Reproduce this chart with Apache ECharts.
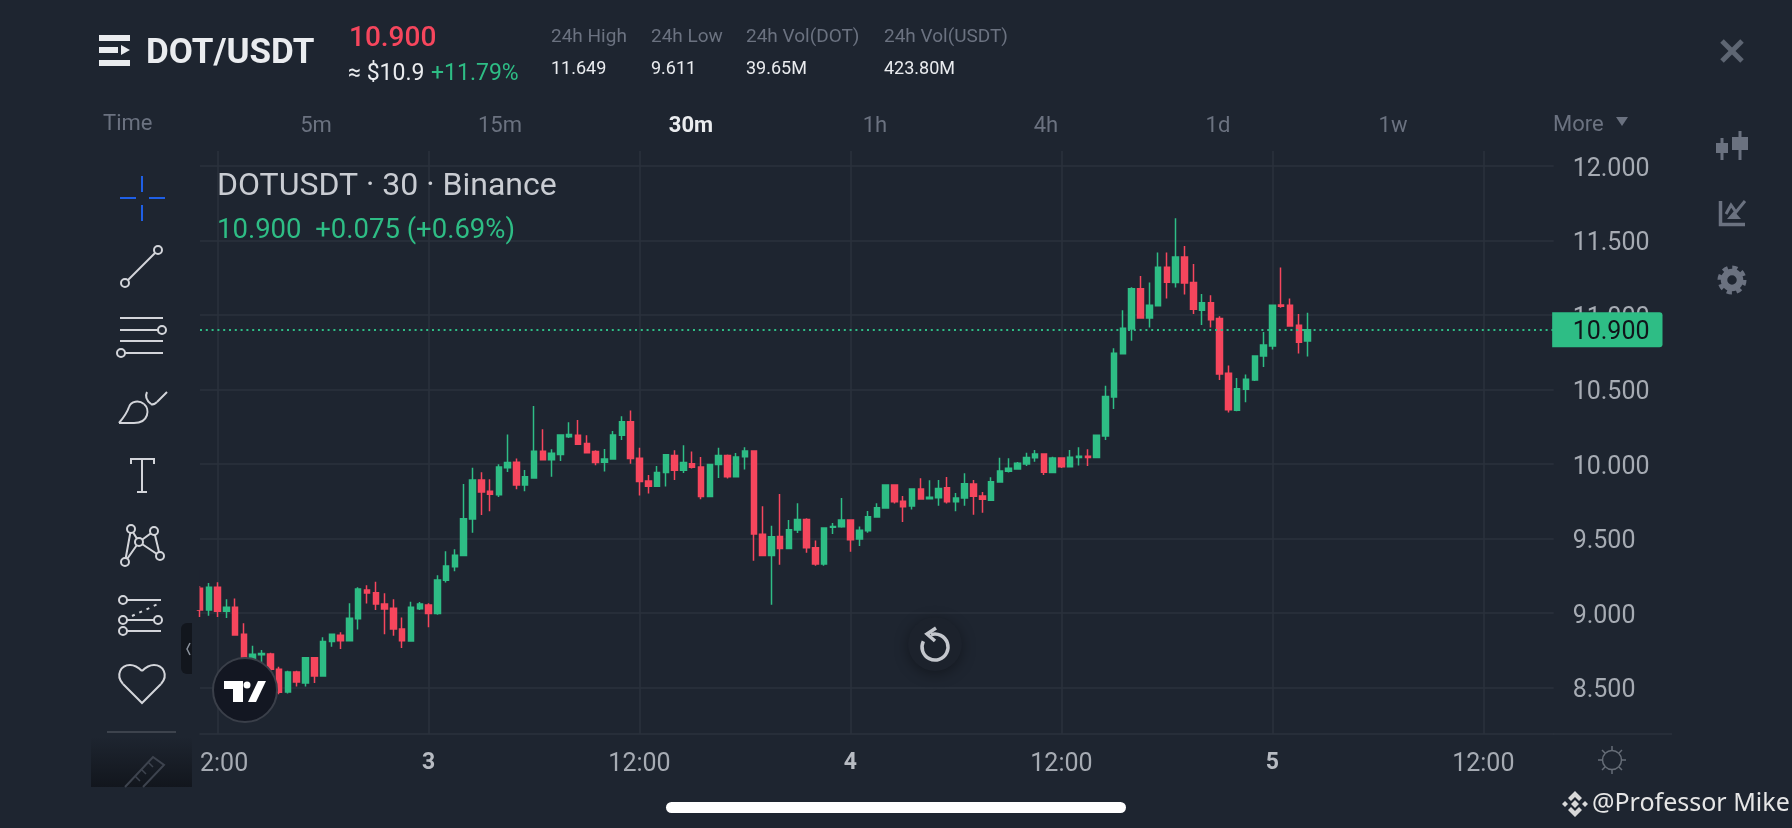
<!DOCTYPE html>
<html>
<head>
<meta charset="utf-8">
<style>
  html, body { margin: 0; padding: 0; background: #1e2530; }
  #main { width: 1792px; height: 828px; }
</style>
<script src="https://cdn.jsdelivr.net/npm/echarts@6/dist/echarts.min.js"></script>
</head>
<body>
<div id="main"></div>
<script>
// 30m candles
const opens = [
  9.166, 9.020, 9.172, 9.011, 9.038, 8.857, 8.662, 8.720, 8.725, 8.622,
  8.470, 8.604, 8.530, 8.700, 8.577, 8.808, 8.850, 8.814, 8.962, 9.154,
  9.136, 9.060, 9.031, 8.893, 8.812, 9.029, 9.054, 8.996, 9.219, 9.311,
  9.385, 9.631, 9.893, 9.817, 9.794, 9.975, 10.011, 9.859, 9.906, 10.085,
  10.029, 10.063, 10.183, 10.192, 10.137, 10.083, 10.011, 10.034, 10.193, 10.284,
  10.038, 9.886, 9.850, 9.942, 10.056, 9.958, 10.002, 9.980, 9.781, 9.996,
  10.056, 9.915, 10.049, 10.087, 9.528, 9.385, 9.514, 9.432, 9.557, 9.628,
  9.438, 9.329, 9.575, 9.579, 9.624, 9.496, 9.552, 9.644, 9.704, 9.859,
  9.749, 9.718, 9.832, 9.767, 9.774, 9.841, 9.747, 9.772, 9.865, 9.785,
  9.756, 9.879, 9.951, 9.966, 10.000, 10.042, 10.067, 9.942, 10.040, 9.982,
  10.043, 10.052, 10.043, 10.188, 10.450, 10.739, 10.906, 11.175, 10.980, 11.061,
  11.320, 11.217, 11.389, 11.217, 11.032, 11.081, 10.976, 10.609, 10.360, 10.501,
  10.564, 10.725, 10.792, 11.067, 11.065, 10.931, 10.825
];
const closes = [
  9.020, 9.172, 9.011, 9.038, 8.852, 8.662, 8.723, 8.729, 8.622, 8.468,
  8.604, 8.537, 8.700, 8.577, 8.808, 8.857, 8.814, 8.964, 9.161, 9.134,
  9.060, 9.027, 8.893, 8.814, 9.038, 9.060, 8.996, 9.221, 9.315, 9.387,
  9.633, 9.893, 9.812, 9.796, 9.980, 10.009, 9.859, 9.915, 10.085, 10.029,
  10.072, 10.195, 10.197, 10.132, 10.076, 10.009, 10.034, 10.195, 10.284, 10.036,
  9.882, 9.850, 9.942, 10.061, 9.958, 10.009, 9.978, 9.781, 9.996, 10.056,
  9.915, 10.047, 10.087, 9.530, 9.385, 9.512, 9.432, 9.559, 9.628, 9.438,
  9.329, 9.570, 9.581, 9.624, 9.492, 9.555, 9.646, 9.707, 9.859, 9.747,
  9.713, 9.832, 9.765, 9.776, 9.836, 9.747, 9.772, 9.868, 9.783, 9.763,
  9.881, 9.953, 9.971, 10.004, 10.044, 10.067, 9.944, 10.040, 9.982, 10.045,
  10.052, 10.043, 10.193, 10.452, 10.743, 10.911, 11.175, 10.980, 11.065, 11.320,
  11.219, 11.389, 11.215, 11.038, 11.081, 10.967, 10.604, 10.363, 10.504, 10.569,
  10.725, 10.799, 11.065, 11.058, 10.926, 10.817, 10.900
];
const lows = [
  8.973, 8.982, 8.973, 8.966, 8.848, 8.650, 8.650, 8.651, 8.606, 8.454,
  8.459, 8.506, 8.506, 8.530, 8.575, 8.774, 8.758, 8.812, 8.890, 9.063,
  9.020, 8.857, 8.848, 8.765, 8.808, 9.020, 8.904, 8.989, 9.204, 9.280,
  9.383, 9.539, 9.658, 9.682, 9.779, 9.946, 9.830, 9.817, 9.902, 10.027,
  9.915, 10.020, 10.175, 10.128, 10.072, 9.991, 9.949, 10.032, 10.161, 10.002,
  9.788, 9.801, 9.848, 9.848, 9.893, 9.940, 9.969, 9.763, 9.776, 9.906,
  9.902, 9.911, 9.962, 9.351, 9.383, 9.056, 9.324, 9.429, 9.537, 9.405,
  9.317, 9.317, 9.530, 9.572, 9.411, 9.449, 9.539, 9.642, 9.700, 9.734,
  9.610, 9.695, 9.760, 9.765, 9.720, 9.734, 9.682, 9.720, 9.660, 9.673,
  9.754, 9.874, 9.942, 9.962, 9.986, 10.015, 9.926, 9.940, 9.973, 9.980,
  9.989, 9.987, 10.041, 10.161, 10.369, 10.737, 10.826, 10.976, 10.915, 11.056,
  11.110, 11.184, 11.137, 11.007, 10.933, 10.915, 10.564, 10.345, 10.354, 10.414,
  10.557, 10.651, 10.768, 11.049, 10.924, 10.741, 10.721
];
const highs = [
  9.181, 9.201, 9.206, 9.092, 9.098, 8.931, 8.781, 8.752, 8.734, 8.640,
  8.613, 8.613, 8.703, 8.703, 8.837, 8.860, 8.870, 9.065, 9.172, 9.186,
  9.210, 9.132, 9.092, 8.969, 9.076, 9.074, 9.065, 9.253, 9.414, 9.427,
  9.866, 9.975, 9.944, 9.897, 9.998, 10.197, 10.036, 9.960, 10.389, 10.233,
  10.098, 10.197, 10.280, 10.295, 10.192, 10.092, 10.101, 10.222, 10.320, 10.358,
  10.108, 9.926, 9.987, 10.065, 10.092, 10.125, 10.083, 10.047, 9.998, 10.108,
  10.063, 10.074, 10.112, 10.092, 9.716, 9.586, 9.798, 9.624, 9.736, 9.635,
  9.487, 9.575, 9.604, 9.772, 9.626, 9.581, 9.684, 9.736, 9.863, 9.861,
  9.785, 9.834, 9.904, 9.890, 9.892, 9.912, 9.805, 9.937, 9.892, 9.812,
  9.910, 10.042, 10.038, 10.013, 10.076, 10.094, 10.069, 10.049, 10.042, 10.094,
  10.112, 10.099, 10.195, 10.524, 10.777, 11.032, 11.186, 11.262, 11.217, 11.419,
  11.419, 11.649, 11.463, 11.342, 11.141, 11.132, 10.991, 10.660, 10.577, 10.600,
  10.730, 10.886, 11.067, 11.318, 11.110, 11.007, 11.014
];
const lastPrice = 10.9;
const yTicks = [8.5, 9, 9.5, 10, 10.5, 11, 11.5, 12];
const xTickIndexes = [2, 26, 50, 74, 98, 122, 146];
const xTickLabels = ['2:00', '3', '12:00', '4', '12:00', '5', '12:00'];
const slotCount = 155;

const categories = [];
for (let i = 0; i < slotCount; i++) {
  const t = xTickIndexes.indexOf(i);
  categories.push(t >= 0 ? xTickLabels[t] : '');
}
const candles = opens.map((o, i) => [o, closes[i], lows[i], highs[i]]);

const UP = '#2ebd85';
const DOWN = '#f6465d';
const BG = '#1e2530';
const GRID = '#2b323d';
const AXIS_TEXT = '#a6abb3';
const DIM = '#6b7280';
const ICON = '#d3d5da';
const FONT = 'Roboto';

// helpers for the app chrome around the chart
const txt = (x, y, text, size, fill, weight, align, family) => ({
  type: 'text', z: 100, x: x, y: y,
  style: { text: text, fill: fill, font: (weight || 400) + ' ' + size + 'px ' + (family || FONT), textAlign: align || 'left', textVerticalAlign: 'middle' }
});
const line = (pts, stroke, w, dash) => ({
  type: 'polyline', z: 100, shape: { points: pts },
  style: { stroke: stroke, lineWidth: w, fill: null, lineDash: dash || null }
});
const ring = (cx, cy, r, stroke, w, fill, dash) => ({
  type: 'circle', z: 100, shape: { cx: cx, cy: cy, r: r },
  style: { stroke: stroke, lineWidth: w, fill: fill || BG, lineDash: dash || null }
});
const box = (x, y, w, h, fill, r) => ({
  type: 'rect', z: 100, shape: { x: x, y: y, width: w, height: h, r: r || 0 }, style: { fill: fill }
});
const poly = (pts, fill) => ({ type: 'polygon', z: 100, shape: { points: pts }, style: { fill: fill } });
const curve = (x1, y1, cx1, cy1, cx2, cy2, x2, y2, stroke, w) => ({
  type: 'bezierCurve', z: 100,
  shape: { x1: x1, y1: y1, cpx1: cx1, cpy1: cy1, cpx2: cx2, cpy2: cy2, x2: x2, y2: y2 },
  style: { stroke: stroke, lineWidth: w, fill: null }
});

const chrome = [
  // header
  box(99, 35, 31, 6, '#eaecef'),
  box(99, 47, 19, 6, '#eaecef'),
  poly([[121, 45], [130, 50], [121, 55]], '#eaecef'),
  box(99, 60, 31, 6, '#eaecef'),
  txt(146, 54, 'DOT/USDT', 35, '#eaecef', 700),
  txt(349, 39, '10.900', 28, DOWN, 500),
  txt(348, 74, '≈ $10.9', 23, '#eaecef', 400),
  txt(431, 74, '+11.79%', 23, UP, 400),
  txt(551, 37, '24h High', 19, DIM), txt(551, 69, '11.649', 18, '#eaecef'),
  txt(651, 37, '24h Low', 19, DIM), txt(651, 69, '9.611', 18, '#eaecef'),
  txt(746, 37, '24h Vol(DOT)', 19, DIM), txt(746, 69, '39.65M', 18, '#eaecef'),
  txt(884, 37, '24h Vol(USDT)', 19, DIM), txt(884, 69, '423.80M', 18, '#eaecef'),
  line([[1722, 41], [1742, 61]], '#5e6673', 5),
  line([[1742, 41], [1722, 61]], '#5e6673', 5),

  // timeframe row
  txt(103, 124, 'Time', 22, DIM),
  txt(316, 126, '5m', 22, DIM, 400, 'center'),
  txt(500, 126, '15m', 22, DIM, 400, 'center'),
  txt(691, 126, '30m', 22, '#eaecef', 700, 'center'),
  txt(875, 126, '1h', 22, DIM, 400, 'center'),
  txt(1046, 126, '4h', 22, DIM, 400, 'center'),
  txt(1218, 126, '1d', 22, DIM, 400, 'center'),
  txt(1393, 126, '1w', 22, DIM, 400, 'center'),
  txt(1553, 125, 'More', 22, DIM),
  poly([[1616, 117], [1628, 117], [1622, 126]], DIM),

  // chart legend
  txt(217, 187, 'DOTUSDT · 30 · Binance', 32, '#c9ccd2', 400),
  txt(217, 231, '10.900  +0.075 (+0.69%)', 27.5, UP, 400),

  // first candle runs under the toolbar edge
  box(190, 570, 9.5, 40, BG),

  // right column icons
  box(1716, 143, 12, 10, '#6b7280'), box(1720.5, 138, 3, 22, '#6b7280'),
  box(1732, 137, 16, 13, '#6b7280'), box(1738.5, 131, 3, 29, '#6b7280'),
  line([[1720.5, 201], [1720.5, 224.5], [1745, 224.5]], '#6b7280', 3.5),
  line([[1726, 214], [1731, 205], [1736, 212], [1745, 201]], '#6b7280', 3),
  poly([[1727, 219], [1741, 219], [1734, 211]], '#6b7280'),
  ring(1732, 280, 12.5, '#6b7280', 4, BG, [5.2, 4.6]),
  ring(1732, 280, 8, '#6b7280', 6.5, BG),

  // left toolbar
  line([[120, 198], [136, 198]], '#1f5fe6', 2), line([[149, 198], [165, 198]], '#1f5fe6', 2),
  line([[142, 176], [142, 192]], '#1f5fe6', 2), line([[142, 205], [142, 221]], '#1f5fe6', 2),

  line([[128, 280], [155, 253]], ICON, 2),
  ring(158, 250, 4, ICON, 2), ring(125, 283, 4, ICON, 2),

  line([[120, 318], [163, 318]], ICON, 2), line([[120, 330], [158, 330]], ICON, 2),
  line([[120, 341], [163, 341]], ICON, 2), line([[125, 353], [163, 353]], ICON, 2),
  ring(162, 330, 4, ICON, 2), ring(121, 353, 4, ICON, 2),

  // brush
  curve(119, 423, 124, 417, 127, 413, 129, 407, ICON, 2),
  curve(129, 407, 131, 401, 139, 400, 144, 404, ICON, 2),
  curve(144, 404, 150, 409, 149, 423, 134, 423, ICON, 2),
  line([[134, 423], [119, 423]], ICON, 2),
  curve(147, 392, 145, 396, 146, 400, 151, 404, ICON, 2),
  curve(151, 404, 153, 405, 155, 404, 157, 402, ICON, 2),
  line([[157, 402], [167, 392]], ICON, 2),

  line([[131, 464], [131, 459], [154, 459], [154, 464]], ICON, 2),
  line([[142, 459], [142, 492]], ICON, 2), line([[137, 492], [147, 492]], ICON, 2),

  line([[131, 529], [125, 562], [139, 542], [131, 529]], ICON, 2),
  line([[139, 542], [154, 531], [160, 556], [139, 542]], ICON, 2),
  ring(131, 529, 4, ICON, 2), ring(154, 531, 4, ICON, 2), ring(139, 542, 4, ICON, 2),
  ring(125, 562, 4, ICON, 2), ring(160, 556, 4, ICON, 2),

  line([[127, 600], [161, 600]], ICON, 2), line([[127, 620], [154, 620]], ICON, 2),
  line([[127, 631], [161, 631]], ICON, 2), line([[132, 616], [158, 604]], ICON, 2, [3, 5]),
  ring(123, 600, 4, ICON, 2), ring(123, 620, 4, ICON, 2), ring(158, 620, 4, ICON, 2), ring(123, 631, 4, ICON, 2),

  // heart
  line([[123, 684], [142, 703], [161, 684]], ICON, 2),
  curve(123, 684, 115, 675, 121, 665, 130, 665, ICON, 2),
  curve(130, 665, 135, 665, 139, 668, 142, 671, ICON, 2),
  curve(142, 671, 145, 668, 149, 665, 154, 665, ICON, 2),
  curve(154, 665, 163, 665, 169, 675, 161, 684, ICON, 2),

  box(107, 731, 69, 2, '#3d434d'),
  {
    type: 'rect', z: 99, shape: { x: 91, y: 737, width: 101, height: 50 },
    style: {
      fill: new echarts.graphic.LinearGradient(0, 0, 0, 1, [
        { offset: 0, color: '#1e2530' }, { offset: 1, color: '#12161d' }
      ])
    }
  },
  line([[125, 787], [153, 757], [164, 765], [143, 787]], '#3d434e', 2),
  line([[141, 769], [146, 774]], '#3d434e', 1.5), line([[135, 776], [140, 781]], '#3d434e', 1.5),
  line([[148, 762], [153, 767]], '#3d434e', 1.5),

  box(181, 623, 11, 51, '#12161d', [6, 0, 0, 6]),
  line([[190, 643], [187, 649], [190, 655]], '#8b929c', 1.5),

  // TradingView badge over the first candles
  ring(245, 690, 32, '#3a3f49', 2, '#131722'),
  poly([[224, 681], [243, 681], [243, 702], [233, 702], [233, 689], [224, 689]], '#ffffff'),
  ring(247, 685, 3.5, '#ffffff', 0, '#ffffff'),
  poly([[258, 681], [266, 681], [256, 702], [248, 702]], '#ffffff'),

  // reset button
  {
    type: 'circle', z: 98, shape: { cx: 935, cy: 644, r: 27 },
    style: { fill: '#1c222c', shadowBlur: 14, shadowColor: 'rgba(0,0,0,0.35)', shadowOffsetY: 3 }
  },
  {
    type: 'arc', z: 100, shape: { cx: 935, cy: 647, r: 13, startAngle: -1.9, endAngle: 3.6, clockwise: true },
    style: { stroke: '#c4c7cd', lineWidth: 3.5, fill: null }
  },
  line([[936, 628], [927, 634], [935, 641]], '#c4c7cd', 3.5),

  // bottom strip
  line([[1553, 734], [1672, 734]], GRID, 1.5),
  ring(1612, 760, 9.5, '#666d77', 1.5),
  line([[1612, 746], [1612, 750]], '#666d77', 1.5), line([[1612, 770], [1612, 774]], '#666d77', 1.5),
  line([[1598, 760], [1602, 760]], '#666d77', 1.5), line([[1622, 760], [1626, 760]], '#666d77', 1.5),
  line([[1602, 750], [1605, 753]], '#666d77', 1.5), line([[1622, 750], [1619, 753]], '#666d77', 1.5),
  line([[1602, 770], [1605, 767]], '#666d77', 1.5), line([[1622, 770], [1619, 767]], '#666d77', 1.5),

  poly([[1575, 791], [1582, 798], [1579, 801], [1575, 797], [1571, 801], [1568, 798]], '#d8d8d8'),
  poly([[1575, 817], [1582, 810], [1579, 807], [1575, 811], [1571, 807], [1568, 810]], '#d8d8d8'),
  poly([[1575, 800], [1579, 804], [1575, 808], [1571, 804]], '#d8d8d8'),
  poly([[1565, 801], [1568, 804], [1565, 807], [1562, 804]], '#d8d8d8'),
  poly([[1585, 801], [1588, 804], [1585, 807], [1582, 804]], '#d8d8d8'),
  txt(1592, 804, '@Professor Mike', 25, '#e6e6e6', 400, 'left', '"Noto Sans"'),
  box(666, 802, 460, 11, '#ffffff', 5.5)
];

const myChart = echarts.init(document.getElementById('main'));
const option = {
  animation: false,
  backgroundColor: BG,
  textStyle: { fontFamily: FONT },
  grid: { left: 200, top: 151, width: 1353.66, height: 583, containLabel: false },
  xAxis: {
    type: 'category',
    data: categories,
    boundaryGap: false,
    axisLine: { show: true, lineStyle: { color: GRID, width: 1.5 } },
    axisTick: { show: false },
    splitLine: {
      show: true,
      interval: (i) => xTickIndexes.indexOf(i) >= 0,
      lineStyle: { color: GRID, width: 1.5 }
    },
    axisLabel: {
      interval: (i) => xTickIndexes.indexOf(i) >= 0,
      margin: 18,
      hideOverlap: false,
      color: AXIS_TEXT,
      fontFamily: FONT,
      fontSize: 25,
      formatter: (value) => {
        // first 12:00 is cut off by the toolbar in the source, only 2:00 shows
        if (value === '2:00') return '{cut|2:00}';
        if (value.length === 1) return '{day|' + value + '}';
        return value;
      },
      rich: {
        cut: { fontSize: 25, color: AXIS_TEXT, fontFamily: FONT, padding: [0, 0, 0, 13] },
        day: { fontSize: 23, color: '#b7bbc2', fontWeight: 700, fontFamily: FONT }
      }
    }
  },
  yAxis: {
    type: 'value',
    position: 'right',
    min: 8.188,
    max: 12.1,
    axisLine: { show: false },
    axisTick: { show: false, customValues: yTicks },
    splitLine: { show: true, lineStyle: { color: GRID, width: 1.5 } },
    axisLabel: {
      customValues: yTicks,
      margin: 19,
      formatter: (v) => '{p|' + v.toFixed(3) + '}',
      rich: {
        p: { fontSize: 25, color: AXIS_TEXT, fontFamily: FONT, padding: [7, 0, 0, 0] }
      }
    }
  },
  series: [
    {
      type: 'candlestick',
      data: candles,
      barWidth: 6,
      itemStyle: {
        color: UP,
        color0: DOWN,
        borderColor: UP,
        borderColor0: DOWN,
        borderWidth: 1.5
      },
      markLine: {
        silent: true,
        symbol: 'none',
        data: [{ yAxis: lastPrice }],
        lineStyle: { color: UP, type: [2, 3.8], width: 2 },
        label: {
          position: 'end',
          distance: -1.5,
          formatter: () => '{p|' + lastPrice.toFixed(3) + '}',
          backgroundColor: UP,
          padding: [2, 13, 2, 20.5],
          borderRadius: [0, 3, 3, 0],
          rich: {
            p: { fontSize: 25, color: '#10141a', fontFamily: FONT, padding: [6, 0, 0, 0] }
          }
        }
      }
    }
  ],
  graphic: { elements: chrome }
};
option && myChart.setOption(option);
</script>
</body>
</html>
